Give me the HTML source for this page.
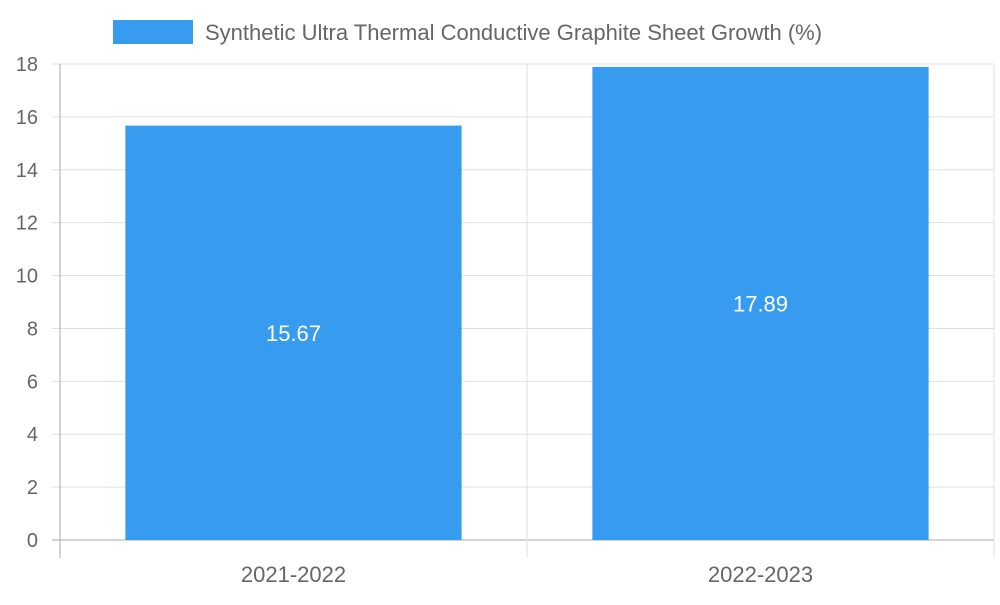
<!DOCTYPE html>
<html><head><meta charset="utf-8"><style>
body{margin:0;background:#fff}
svg text{font-family:"Liberation Sans",sans-serif}
</style></head><body>
<svg id="chart" width="1000" height="600">
<rect x="113" y="20" width="80" height="24" fill="#379bf0"/>
<text x="205" y="40" font-size="22" fill="#666">Synthetic Ultra Thermal Conductive Graphite Sheet Growth (%)</text>
<g id="grid"></g><g id="bars"></g><g id="labels"></g>
</svg>
<script>
const categories=["2021-2022","2022-2023"];
const values=[15.67,17.89];
const yTicks=[0,2,4,6,8,10,12,14,16,18];
const ns="http://www.w3.org/2000/svg";
const X0=60,X1=994,Y0=540,Y1=64,yMax=18;
const y=v=>Y0-(v/yMax)*(Y0-Y1);
const bw=(X1-X0)/categories.length;
const xc=i=>X0+bw*(i+0.5);
function mk(tag,attrs,parent,txt){const e=document.createElementNS(ns,tag);for(const k in attrs)e.setAttribute(k,attrs[k]);if(txt!==undefined)e.textContent=txt;document.getElementById(parent).appendChild(e);return e;}
yTicks.forEach(t=>{
 const l=mk("line",{x1:52,x2:X1,y1:y(t),y2:y(t),stroke:t===0?"#aaa":"#e0e0e0","stroke-width":1},"grid");
 
 
 const tx=mk("text",{x:38,y:y(t)+7,"text-anchor":"end","font-size":20,fill:"#666"},"grid",t);
 
 
});
for(let i=0;i<=categories.length;i++){
 const gx=X0+bw*i;
 const l=mk("line",{x1:gx,x2:gx,y1:Y1,y2:558,stroke:i===0?"#aaa":"#e0e0e0","stroke-width":1},"grid");
 
 
}
categories.forEach((c,i)=>{
 const w=bw*0.72;
 const r=mk("rect",{x:xc(i)-w/2,y:y(values[i]),width:w,height:Y0-y(values[i]),fill:"#379bf0"},"bars");
 
 
 const v=mk("text",{x:xc(i),y:(y(values[i])+Y0)/2+8,"text-anchor":"middle","font-size":22,fill:"#fff"},"labels",values[i].toFixed(2));
 
 
 const t=mk("text",{x:xc(i),y:582,"text-anchor":"middle","font-size":22,fill:"#666"},"labels",c);
 
 
});
</script>
</body></html>
